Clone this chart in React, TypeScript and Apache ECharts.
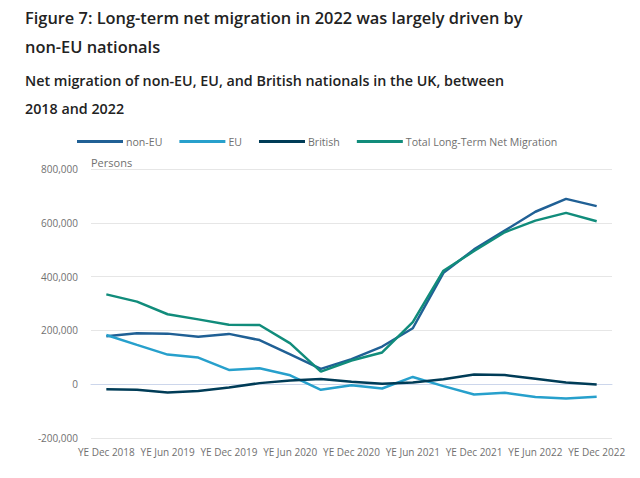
import React, { useEffect, useRef } from "react";
import * as echarts from "echarts";

const categories = [
  "YE Dec 2018", "YE Mar 2019", "YE Jun 2019", "YE Sep 2019", "YE Dec 2019",
  "YE Mar 2020", "YE Jun 2020", "YE Sep 2020", "YE Dec 2020", "YE Mar 2021",
  "YE Jun 2021", "YE Sep 2021", "YE Dec 2021", "YE Mar 2022", "YE Jun 2022",
  "YE Sep 2022", "YE Dec 2022",
];
const nonEU = [178000, 189000, 188000, 176000, 187000, 164000, 111000, 57000, 93000, 140000, 208000, 414000, 501000, 571000, 641000, 689000, 662000];
const eu = [183000, 146000, 110000, 99000, 53000, 59000, 33000, -21000, -4000, -16000, 27000, -7000, -38000, -32000, -48000, -53000, -47000];
const british = [-19000, -21000, -31000, -25000, -12000, 4000, 14000, 19000, 9000, 2000, 6000, 18000, 36000, 34000, 20000, 6000, -1000];
const total = [334000, 307000, 260000, 241000, 221000, 220000, 152000, 47000, 88000, 118000, 231000, 422000, 495000, 565000, 608000, 637000, 606000];

const seriesNames = ["non-EU", "EU", "British", "Total Long-Term Net Migration"];
const seriesColors = ["#206095", "#27a0cc", "#003c57", "#118c7b"];

const FONT = "'Open Sans', 'Noto Sans', sans-serif";

export default function App() {
  const ref = useRef<HTMLDivElement>(null);
  useEffect(() => {
    if (!ref.current) return;
    const chart = echarts.init(ref.current, null, { renderer: "svg" });
    const data = [nonEU, eu, british, total];
    chart.setOption({
      animation: false,
      textStyle: { fontFamily: FONT },
      title: [
        {
          text: "Figure 7: Long-term net migration in 2022 was largely driven by\nnon-EU nationals",
          left: 25,
          top: 3,
          padding: 0,
          textStyle: { fontFamily: FONT, fontSize: 16.4, fontWeight: 600, color: "#222222", lineHeight: 29 },
        },
        {
          text: "Net migration of non-EU, EU, and British nationals in the UK, between\n2018 and 2022",
          left: 25,
          top: 66,
          padding: 0,
          textStyle: { fontFamily: FONT, fontSize: 14.3, fontWeight: 600, color: "#222222", lineHeight: 28 },
        },
      ],
      legend: {
        data: seriesNames,
        left: 72,
        top: 131,
        icon: "rect",
        itemWidth: 46,
        itemHeight: 3,
        itemGap: 17,
        textStyle: { fontFamily: FONT, fontSize: 10.6, color: "#707070", padding: [0, 0, 0, -2] },
      },
      graphic: [
        {
          type: "text",
          left: 91,
          top: 157,
          style: { text: "Persons", fontFamily: FONT, fontSize: 11, fill: "#707070" },
        },
      ],
      grid: { left: 91, right: 28, top: 169, bottom: 40, containLabel: false },
      xAxis: {
        type: "category",
        data: categories,
        boundaryGap: true,
        axisLine: { lineStyle: { color: "#ccd6eb" } },
        axisTick: { alignWithLabel: true, interval: 1, length: 8, lineStyle: { color: "#ccd6eb" } },
        axisLabel: { interval: 1, color: "#707070", fontFamily: FONT, fontSize: 10, margin: 9 },
      },
      yAxis: {
        type: "value",
        min: -200000,
        max: 800000,
        interval: 200000,
        axisLine: { show: false },
        axisTick: { show: false },
        splitLine: { lineStyle: { color: "#e6e6e6", width: 1 } },
        axisLabel: {
          color: "#707070",
          fontFamily: FONT,
          fontSize: 10,
          margin: 13,
          formatter: (v: number) => v.toLocaleString("en-GB"),
        },
      },
      series: seriesNames.map((name, i) => ({
        name,
        type: "line",
        data: data[i],
        symbol: "none",
        color: seriesColors[i],
        lineStyle: { width: 2.5, color: seriesColors[i] },
      })),
    });
    return () => chart.dispose();
  }, []);
  return <div ref={ref} style={{ position: "fixed", left: 0, top: 0, width: 640, height: 478, background: "#fff" }} />;
}
